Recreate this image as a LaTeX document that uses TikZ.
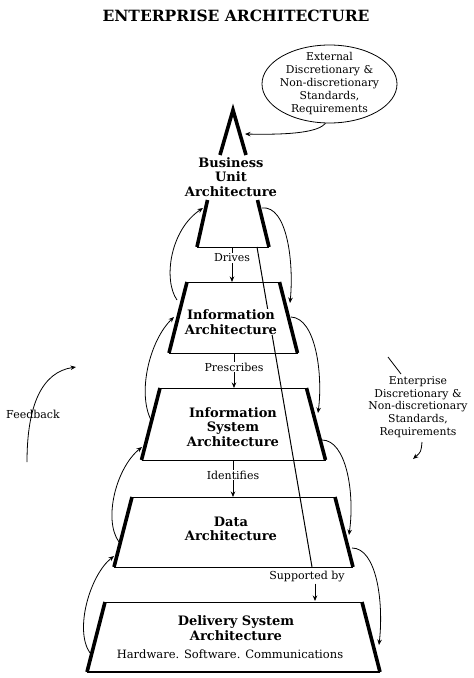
\documentclass[tikz,border=0pt]{standalone}
\usepackage{fontspec}
\setmainfont{DejaVu Serif}
\usetikzlibrary{arrows.meta,shapes.geometric}
\begin{document}
\begin{tikzpicture}[x=1pt,y=-1pt,
  edge/.style={line width=3.6pt},
  hline/.style={line width=0.8pt},
  tick/.style={line width=0.7pt},
  lvl/.style={font=\bfseries\fontsize{13}{14.5}\selectfont, align=center, inner sep=1pt, fill=white},
  small/.style={font=\fontsize{11}{12.8}\selectfont, align=center, inner sep=1pt},
  fb/.style={line width=0.8pt, -{Stealth[length=5.5pt,width=4.5pt]}},
]
\useasboundingbox[fill=white] (0,0) rectangle (474,678);

% title
\node[font=\bfseries\fontsize{15.5}{17}\selectfont] (title) at (236,16) {ENTERPRISE ARCHITECTURE};

% pyramid
\draw[edge] (220,155) -- (233,110) -- (246,155);
\draw[edge] (207.5,200) -- (197,247);
\draw[edge] (257.5,200) -- (269,247);
\draw[hline] (197,247) -- (269,247);

\draw[hline] (187,282) -- (279.5,282);
\draw[hline] (169,353) -- (297.5,353);
\draw[edge] (187,282) -- (169,353);
\draw[edge] (279.5,282) -- (297.5,353);

\draw[hline] (160,388) -- (306.5,388);
\draw[hline] (141.5,460) -- (325.5,460);
\draw[edge] (160,388) -- (141.5,460);
\draw[edge] (306.5,388) -- (325.5,460);

\draw[hline] (132,497) -- (335,497);
\draw[hline] (114,567) -- (353,567);
\draw[edge] (132,497) -- (114,567);
\draw[edge] (335,497) -- (353,567);

\draw[hline] (105,602) -- (362,602);
\draw[line width=2.4pt] (87,672) -- (380,672);
\draw[edge] (105,602) -- (87,672);
\draw[edge] (362,602) -- (380,672);

% long diagonal
\coordinate (d1) at (257,247);
\coordinate (d2) at (312,567);
\draw[line width=1pt] (d1) -- (d2);

% level labels
\node[lvl] (bu) at (231,177) {Business\\Unit\\Architecture};
\node[lvl] (ia) at (231,322) {Information\\Architecture};
\node[lvl] (isa) at (233,427) {Information\\System\\Architecture};
\node[lvl] (da) at (231,529) {Data\\Architecture};
\node[lvl] (ds) at (236,628) {Delivery System\\Architecture};
\node[small, font=\fontsize{11.5}{13}\selectfont] (hw) at (230,654) {Hardware. Software. Communications};

% relation labels
\node[small] (drives) at (232,258) {Drives};
\node[small] (presc) at (234,367) {Prescribes};
\node[small] (ident) at (233,475) {Identifies};
\node[small] (supp) at (307,577) {Supported by};
\coordinate (dr0) at (232,247); \coordinate (dr1) at (232,282);
\coordinate (pr0) at (234,353); \coordinate (pr1) at (234,388);
\coordinate (id0) at (233,460); \coordinate (id1) at (233,497);
\coordinate (sp1) at (315,601);
\draw[tick] (dr0) -- (drives.north -| dr0);
\draw[fb] (drives.south -| dr1) -- (dr1);
\draw[tick] (pr0) -- (presc.north -| pr0);
\draw[fb] (presc.south -| pr1) -- (pr1);
\draw[tick] (id0) -- (ident.north -| id0);
\draw[fb] (ident.south -| id1) -- (id1);
\draw[fb] (supp.south -| sp1) -- (sp1);

% left feedback curves (upward)
\coordinate (la0) at (177,300); \coordinate (la1) at (203,208);
\coordinate (lb0) at (151,420); \coordinate (lb1) at (174,317);
\coordinate (lc0) at (119,542); \coordinate (lc1) at (142,447);
\coordinate (ld0) at (90,653);  \coordinate (ld1) at (114,556);
\draw[fb] (la0) .. controls (163,280) and (170,230) .. (la1);
\draw[fb] (lb0) .. controls (137,392) and (150,340) .. (lb1);
\draw[fb] (lc0) .. controls (103,520) and (116,468) .. (lc1);
\draw[fb] (ld0) .. controls (74,630) and (90,575) .. (ld1);

% right standards curves (downward)
\coordinate (ra0) at (262,208); \coordinate (ra1) at (290,303);
\coordinate (rb0) at (291,317); \coordinate (rb1) at (318,413);
\coordinate (rc0) at (322,440); \coordinate (rc1) at (349,535);
\coordinate (rd0) at (352,548); \coordinate (rd1) at (379,645);
\draw[fb] (ra0) .. controls (287,205) and (294,262) .. (ra1);
\draw[fb] (rb0) .. controls (316,318) and (323,375) .. (rb1);
\draw[fb] (rc0) .. controls (346,440) and (355,492) .. (rc1);
\draw[fb] (rd0) .. controls (376,548) and (384,600) .. (rd1);

% external standards ellipse
\node[draw, ellipse, line width=0.8pt, minimum width=135, minimum height=78] (ext) at (329.5,84) {};
\node[small, font=\fontsize{10.8}{13}\selectfont] (exttext) at (ext.center) {External\\Discretionary \&\\Non-discretionary\\Standards,\\Requirements};
\coordinate (apexR) at (245,134);
\draw[fb] ([xshift=-4pt]ext.south) .. controls (318,132) and (292,135) .. (apexR);

% enterprise standards
\node[small, font=\fontsize{10.8}{12.6}\selectfont] (ent) at (418,407) {Enterprise\\Discretionary \&\\Non-discretionary\\Standards,\\Requirements};
\coordinate (s1) at (388,357); \coordinate (s2) at (401,374);
\draw[line width=0.8pt] (s1) -- (s2);
\coordinate (e1) at (422,442); \coordinate (e2) at (413,459);
\draw[fb] (e1) .. controls (421,452) .. (e2);

% feedback
\coordinate (f1) at (27,462); \coordinate (f2) at (76,367);
\draw[fb] (f1) .. controls (27,405) and (42,372) .. (f2);
\node[small] (feed) at (33,414) {Feedback};
\end{tikzpicture}
\end{document}
